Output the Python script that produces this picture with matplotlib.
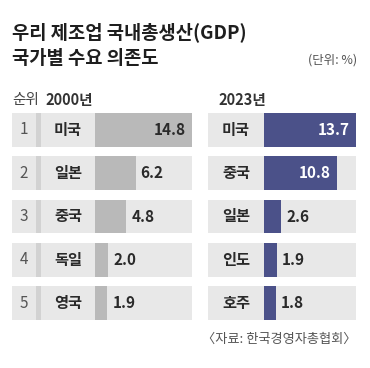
import matplotlib

matplotlib.use("Agg")
import matplotlib.pyplot as plt

plt.rcParams["font.family"] = ["Noto Sans CJK KR", "DejaVu Sans"]

# data
ranks = [1, 2, 3, 4, 5]
countries_2000 = ["미국", "일본", "중국", "독일", "영국"]
values_2000 = [14.8, 6.2, 4.8, 2.0, 1.9]
countries_2023 = ["미국", "중국", "일본", "인도", "호주"]
values_2023 = [13.7, 10.8, 2.6, 1.9, 1.8]

W, H = 370, 368
row_bg = "#e8e8e8"
text_dark = "#2a2a2a"
gray_bar = "#b9b9b9"
navy_bar = "#4b5189"


def px(x, y):
    # pixel position (top-left origin) -> figure fraction
    return x / W, 1 - y / H


fig = plt.figure(figsize=(W / 100, H / 100), dpi=100, facecolor="white")

# panel rectangles in pixels: left, right, top, bottom
top_px, bot_px = 113, 320
ax_l = fig.add_axes([12 / W, 1 - bot_px / H, (192 - 12) / W, (bot_px - top_px) / H])
ax_r = fig.add_axes([208 / W, 1 - bot_px / H, (356 - 208) / W, (bot_px - top_px) / H])

ypos = list(range(len(ranks)))
bh = 0.78


def panel(ax, names, vals, bar_color, start_px, left_px, right_px, inside_n, inside_color, show_rank):
    scale = (right_px - start_px) / max(vals)
    x0 = -(start_px - left_px) / scale
    x1 = max(vals)
    ax.set_xlim(x0, x1)
    ax.set_ylim(len(ypos) - 1 + bh / 2, -bh / 2)
    ax.axis("off")
    ax.barh(ypos, [x1 - x0] * len(ypos), left=x0, height=bh, color=row_bg, zorder=1)
    if show_rank:
        # thin darker strip after the rank column
        ax.barh(ypos, [5 / scale] * len(ypos), left=(36 - start_px) / scale,
                height=bh, color="#d2d2d2", zorder=2)
        for y, r in zip(ypos, ranks):
            ax.text((24 - start_px) / scale, y, str(r), ha="center", va="center",
                    fontsize=11, color="#555555", zorder=4)
    ax.barh(ypos, vals, left=0, height=bh, color=bar_color, zorder=3)
    name_x = (54 - start_px) / scale if show_rank else (222 - start_px) / scale
    for i, (y, n, v) in enumerate(zip(ypos, names, vals)):
        ax.text(name_x, y, n, ha="left", va="center", fontsize=11, weight="bold",
                color=text_dark, zorder=4)
        if i < inside_n:
            ax.text(v - 6 / scale, y, f"{v:.1f}", ha="right", va="center",
                    fontsize=11, weight="bold", color=inside_color, zorder=4)
        else:
            ax.text(v + 5 / scale, y, f"{v:.1f}", ha="left", va="center",
                    fontsize=11, weight="bold", color=text_dark, zorder=4)


panel(ax_l, countries_2000, values_2000, gray_bar, 95, 12, 192, 1, text_dark, True)
panel(ax_r, countries_2023, values_2023, navy_bar, 264, 208, 356, 2, "white", False)

# titles and labels
fig.text(*px(12, 32), "우리 제조업 국내총생산(GDP)", ha="left", va="center",
         fontsize=13.5, weight="bold", color="#1e1e1e")
fig.text(*px(12, 58), "국가별 수요 의존도", ha="left", va="center",
         fontsize=13.5, weight="bold", color="#1e1e1e")
fig.text(*px(357, 60), "(단위: %)", ha="right", va="center",
         fontsize=9, color="#555555")
fig.text(*px(12, 100), "순위", ha="left", va="center", fontsize=10.5, color="#444444")
fig.text(*px(45, 100), "2000년", ha="left", va="center", fontsize=10.5,
         color="#333333", weight="bold")
fig.text(*px(218, 100), "2023년", ha="left", va="center", fontsize=10.5,
         color="#333333", weight="bold")
fig.text(*px(357, 339), "〈자료: 한국경영자총협회〉", ha="right", va="center",
         fontsize=9.5, color="#555555")

fig.savefig("out.png", dpi=100, facecolor="white")
plt.close(fig)
